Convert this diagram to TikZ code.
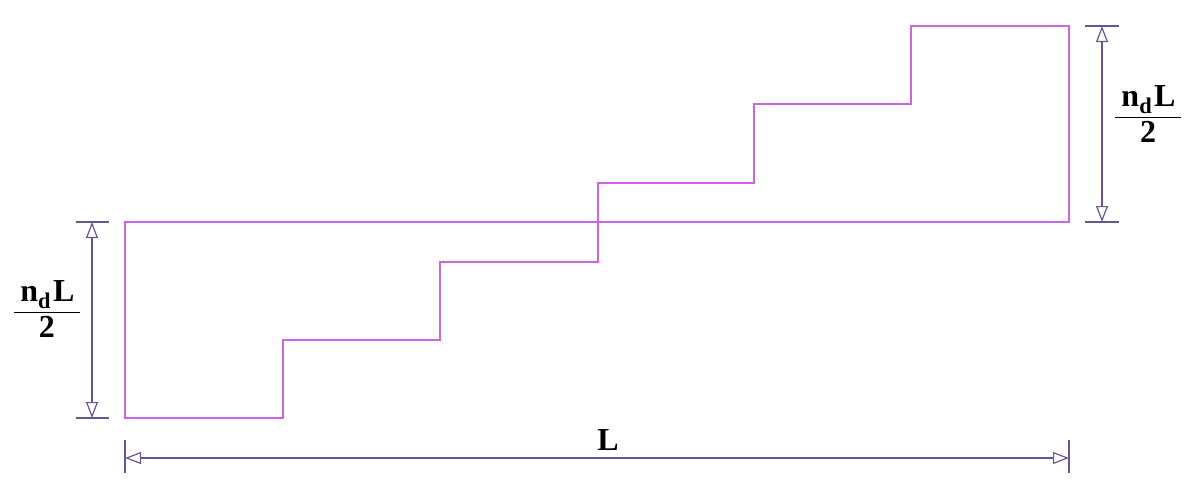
\documentclass[tikz,border=0pt]{standalone}
\usepackage{amsmath}
\usepackage{fontspec}
\setmainfont{Liberation Serif}
\usetikzlibrary{arrows.meta, positioning}
\definecolor{stepcolor}{RGB}{205, 100, 225}
\definecolor{dimcolor}{RGB}{105, 85, 150}
\tikzstyle{stairline} = [
    draw=stepcolor,
    line width=1.2pt
]
\tikzstyle{extline} = [
    draw=dimcolor,
    line width=1.2pt
]
\tikzstyle{dimline} = [
    extline,
    {Triangle[open, length=16pt, width=12pt]}-{Triangle[open, length=16pt, width=12pt]}
]
\tikzstyle{dimlabel} = [
    font=\fontsize{32}{38}\selectfont\bfseries,
    text=black,
    inner sep=0pt
]
\newcommand{\halfnd}{$\dfrac{\kern6pt\textbf{n}_{\textbf{d}}\kern2pt\textbf{L}\kern5pt}{\textbf{2}}$}

\begin{document}
\begin{tikzpicture}[x=1pt, y=-1pt]
\useasboundingbox (0,0) rectangle (1200,493);

% Corners of the stepped outline
\coordinate (bl) at (125,418);
\coordinate (tl) at (125,222);
\coordinate (tr) at (1069,26);
\coordinate (mr) at (1069,222);

% Stepped outline
\draw[stairline] (tl) -- (bl) -- (283,418) -- (283,340) -- (440,340) -- (440,262)
    -- (598,262) -- (598,183) -- (754,183) -- (754,104) -- (911,104) -- (911,26)
    -- (tr) -- (mr) -- cycle;

% Left dimension
\coordinate (la) at (92,222);
\coordinate (lb) at (92,418);
\draw[extline] ([xshift=-16pt]la) -- ([xshift=17pt]la);
\draw[extline] ([xshift=-16pt]lb) -- ([xshift=17pt]lb);
\draw[dimline] (la) -- (lb);
\node[dimlabel] (leftlabel) at (47,309) {\halfnd};

% Right dimension
\coordinate (ra) at (1102,26);
\coordinate (rb) at (1102,222);
\draw[extline] ([xshift=-17pt]ra) -- ([xshift=17pt]ra);
\draw[extline] ([xshift=-17pt]rb) -- ([xshift=17pt]rb);
\draw[dimline] (ra) -- (rb);
\node[dimlabel] (rightlabel) at (1148,114) {\halfnd};

% Bottom dimension
\coordinate (ba) at (125,458);
\coordinate (bb) at (1069,458);
\draw[extline] ([yshift=18pt]ba) -- ([yshift=-15pt]ba);
\draw[extline] ([yshift=18pt]bb) -- ([yshift=-15pt]bb);
\draw[dimline] (ba) -- (bb);
\node[dimlabel] (lenlabel) at (608,440) {L};

\end{tikzpicture}
\end{document}
